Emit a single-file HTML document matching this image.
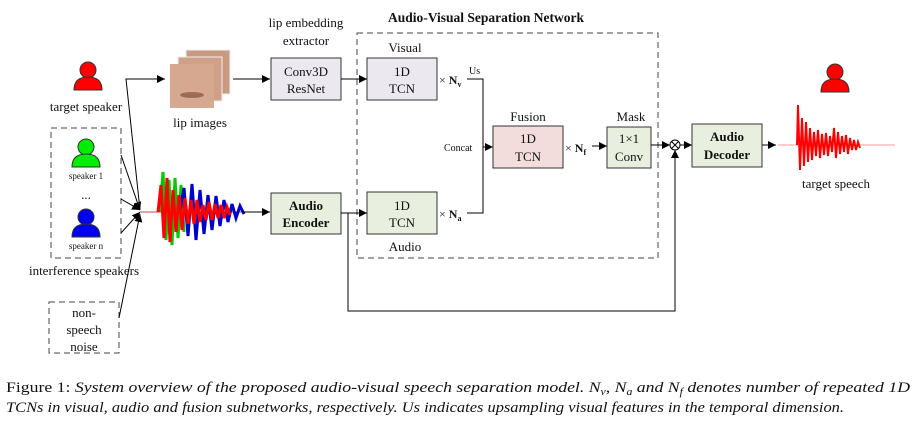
<!DOCTYPE html>
<html><head><meta charset="utf-8"><style>
html,body{margin:0;padding:0;background:#fff;width:921px;height:423px;overflow:hidden}
svg{display:block}
text{font-family:"Liberation Serif",serif;fill:#111}
</style></head><body>
<svg width="921" height="423" viewBox="0 0 921 423">
<defs>
<marker id="a" viewBox="0 0 10 10" refX="10" refY="5" markerWidth="8" markerHeight="8" orient="auto" markerUnits="userSpaceOnUse"><path d="M0,0L10,5L0,10z" fill="#000"/></marker>
<g id="person"><circle cx="0" cy="-8" r="8"/><path d="M-14,12 Q-14,-1 0,-1 Q14,-1 14,12 Z"/></g>
</defs>
<text x="486" y="22" font-size="13.5" font-weight="bold" text-anchor="middle">Audio-Visual Separation Network</text>
<rect x="357" y="33" width="301" height="225" fill="none" stroke="#444" stroke-dasharray="6,4"/>
<!-- speakers -->
<g fill="#f00" stroke="#333"><use href="#person" x="88" y="78"/></g>
<text x="86" y="111" font-size="13" text-anchor="middle">target speaker</text>
<rect x="51" y="128" width="70" height="130" fill="none" stroke="#444" stroke-dasharray="6,4"/>
<g fill="#0e0" stroke="#333"><use href="#person" x="86" y="155"/></g>
<text x="86" y="179" font-size="9" text-anchor="middle">speaker 1</text>
<text x="86" y="199" font-size="13" text-anchor="middle">...</text>
<g fill="#00e" stroke="#333"><use href="#person" x="86" y="225"/></g>
<text x="86" y="249" font-size="9" text-anchor="middle">speaker n</text>
<text x="84" y="275" font-size="13" text-anchor="middle">interference speakers</text>
<rect x="49" y="302" width="70" height="51" fill="none" stroke="#444" stroke-dasharray="6,4"/>
<text x="84" y="317" font-size="13" text-anchor="middle">non-</text>
<text x="84" y="334" font-size="13" text-anchor="middle">speech</text>
<text x="84" y="351" font-size="13" text-anchor="middle">noise</text>
<g fill="none" stroke="#000">
<path d="M140,210 L126,79 L165,79" marker-end="url(#a)"/>
<path d="M121,155 L140,210" marker-end="url(#a)"/>
<path d="M121,199 L140,210" marker-end="url(#a)"/>
<path d="M121,233 L140,212" marker-end="url(#a)"/>
<path d="M119,318 L140,214" marker-end="url(#a)"/>
</g>
<!-- lip images -->
<rect x="186" y="50" width="44" height="44" fill="#c99a82" stroke="#eee"/>
<rect x="178" y="57" width="44" height="44" fill="#d0a088" stroke="#eee"/>
<rect x="170" y="64" width="44" height="44" fill="#d6a890"/>
<ellipse cx="192" cy="95" rx="12" ry="3" fill="#a06a5a"/>
<text x="200" y="127" font-size="13" text-anchor="middle">lip images</text>
<line x1="233" y1="79" x2="270" y2="79" stroke="#000" marker-end="url(#a)"/>
<!-- mixture waveform -->
<line x1="140" y1="212" x2="262" y2="212" stroke="#c44"/>
<path d="M160,212 L163,172 L166,240 L169,180 L172,245 L175,178 L178,238 L181,185 L184,232" stroke="#0c0" stroke-width="3" fill="none"/>
<path d="M180,212 L184,188 L188,236 L192,184 L196,240 L200,190 L204,234 L208,195 L212,230 L216,196 L220,226 L224,200 L228,222 L232,204 L236,218 L240,206 L244,214" stroke="#00c" stroke-width="3" fill="none"/>
<path d="M158,212 L161,185 L164,238 L167,178 L170,242 L173,190 L176,232 L179,195 L182,230 L185,198 L188,224 L191,200 L194,224 L197,200 L200,222 L203,205 L206,220 L209,202 L212,220 L215,204 L218,218 L221,205 L224,218 L227,207 L230,215" stroke="#f00" stroke-width="3" fill="none"/>
<line x1="242" y1="212" x2="270" y2="212" stroke="#000" marker-end="url(#a)"/>
<!-- conv3d / encoder -->
<text x="306" y="27" font-size="13" text-anchor="middle">lip embedding</text>
<text x="306" y="45" font-size="13" text-anchor="middle">extractor</text>
<rect x="271" y="58" width="70" height="42" fill="#ebe8f0" stroke="#333"/>
<text x="306" y="76" font-size="13" text-anchor="middle">Conv3D</text>
<text x="306" y="93" font-size="13" text-anchor="middle">ResNet</text>
<rect x="271" y="193" width="70" height="41" fill="#e8efdf" stroke="#333"/>
<text x="306" y="210" font-size="13" font-weight="bold" text-anchor="middle">Audio</text>
<text x="306" y="227" font-size="13" font-weight="bold" text-anchor="middle">Encoder</text>
<!-- TCNs -->
<text x="405" y="52" font-size="13" text-anchor="middle">Visual</text>
<rect x="367" y="58" width="70" height="42" fill="#ebe8f0" stroke="#333"/>
<text x="402" y="76" font-size="13" text-anchor="middle">1D</text>
<text x="402" y="93" font-size="13" text-anchor="middle">TCN</text>
<rect x="367" y="192" width="70" height="42" fill="#e8efdf" stroke="#333"/>
<text x="402" y="210" font-size="13" text-anchor="middle">1D</text>
<text x="402" y="227" font-size="13" text-anchor="middle">TCN</text>
<text x="405" y="251" font-size="13" text-anchor="middle">Audio</text>
<text x="439" y="84" font-size="12">× <tspan font-weight="bold">N</tspan><tspan font-size="8" font-weight="bold" dy="3">v</tspan></text>
<text x="469" y="74" font-size="10">Us</text>
<text x="439" y="218" font-size="12">× <tspan font-weight="bold">N</tspan><tspan font-size="8" font-weight="bold" dy="3">a</tspan></text>
<text x="444" y="151" font-size="10">Concat</text>
<g fill="none" stroke="#000">
<path d="M341,79 L367,79" marker-end="url(#a)"/>
<path d="M341,213 L367,213" marker-end="url(#a)"/>
<path d="M467,79 L483,79 L483,213 L467,213"/>
<path d="M483,147 L493,147" marker-end="url(#a)"/>
</g>
<text x="528" y="121" font-size="13" text-anchor="middle">Fusion</text>
<rect x="493" y="126" width="70" height="42" fill="#f2dcdc" stroke="#333"/>
<text x="528" y="143" font-size="13" text-anchor="middle">1D</text>
<text x="528" y="161" font-size="13" text-anchor="middle">TCN</text>
<text x="565" y="152" font-size="12">× <tspan font-weight="bold">N</tspan><tspan font-size="8" font-weight="bold" dy="3">f</tspan></text>
<line x1="592" y1="146" x2="607" y2="146" stroke="#000" marker-end="url(#a)"/>
<text x="631" y="121" font-size="13" text-anchor="middle">Mask</text>
<rect x="607" y="127" width="44" height="41" fill="#e8efdf" stroke="#333"/>
<text x="629" y="143" font-size="13" text-anchor="middle">1×1</text>
<text x="629" y="161" font-size="13" text-anchor="middle">Conv</text>
<g fill="none" stroke="#000">
<path d="M651,145 L670,145" marker-end="url(#a)"/>
<circle cx="675" cy="145" r="5"/>
<path d="M671.5,141.5 L678.5,148.5 M678.5,141.5 L671.5,148.5"/>
<path d="M680,145 L692,145" marker-end="url(#a)"/>
<path d="M348,213 L348,311 L675,311 L675,150" marker-end="url(#a)"/>
<path d="M762,145 L776,145" marker-end="url(#a)"/>
</g>
<rect x="692" y="124" width="70" height="43" fill="#e8efdf" stroke="#333"/>
<text x="727" y="141" font-size="13" font-weight="bold" text-anchor="middle">Audio</text>
<text x="727" y="159" font-size="13" font-weight="bold" text-anchor="middle">Decoder</text>
<g fill="#f00" stroke="#333"><use href="#person" x="835" y="80"/></g>
<line x1="778" y1="145" x2="895" y2="145" stroke="#f77" stroke-width="0.8"/>
<path d="M797,145 L798,105 L800,170 L802,118 L804,166 L806,122 L808,162 L810,128 L812,160 L814,132 L816,156 L818,130 L820,158 L822,134 L824,155 L826,133 L828,156 L830,136 L832,152 L834,128 L836,158 L838,132 L840,154 L842,136 L844,152 L846,135 L848,154 L850,138 L852,150 L854,140 L856,150 L858,142 L860,148" stroke="#f00" stroke-width="2" fill="none"/>
<text x="836" y="188" font-size="13" text-anchor="middle">target speech</text>
<!-- caption -->
<text x="6" y="392" font-size="15" textLength="904" lengthAdjust="spacingAndGlyphs">Figure 1: <tspan font-style="italic">System overview of the proposed audio-visual speech separation model. N<tspan font-size="10" dy="3">v</tspan><tspan dy="-3">, N</tspan><tspan font-size="10" dy="3">a</tspan><tspan dy="-3"> and N</tspan><tspan font-size="10" dy="3">f</tspan><tspan dy="-3"> denotes number of repeated 1D</tspan></tspan></text>
<text x="6" y="412" font-size="15" font-style="italic" textLength="838" lengthAdjust="spacingAndGlyphs">TCNs in visual, audio and fusion subnetworks, respectively. Us indicates upsampling visual features in the temporal dimension.</text>
</svg>
</body></html>
